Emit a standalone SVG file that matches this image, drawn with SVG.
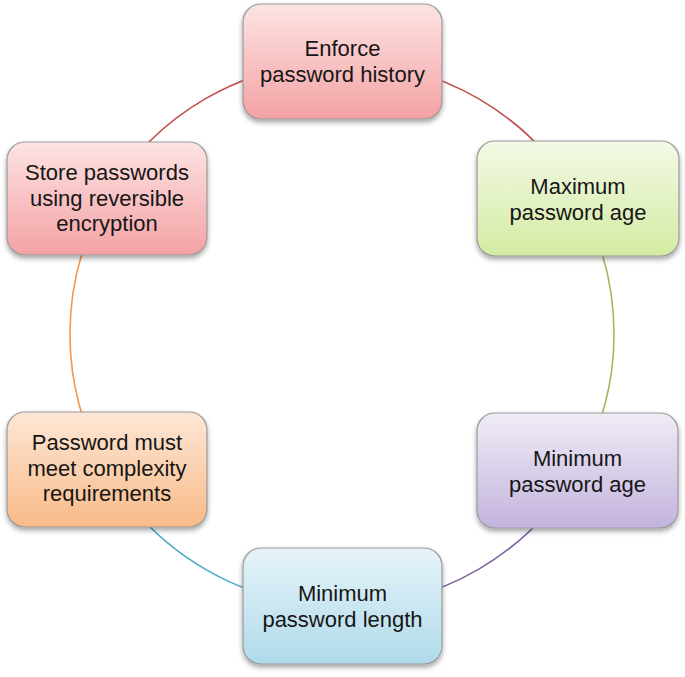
<svg xmlns="http://www.w3.org/2000/svg" width="685" height="677" viewBox="0 0 685 677">
<style>
.arc{fill:none;stroke-width:1.6}
.box{stroke:#9a9a9a;stroke-width:1.2;filter:url(#sh)}
text{font-family:"Liberation Sans",Arial,sans-serif;font-size:22px;fill:#161616;text-anchor:middle}
</style>
<defs>
<filter id="sh" x="-10%" y="-10%" width="120%" height="130%">
<feDropShadow dx="0" dy="3" stdDeviation="2.5" flood-color="#000" flood-opacity="0.35"/>
</filter>
<linearGradient id="gRed" x1="0" y1="0" x2="0" y2="1"><stop offset="0" stop-color="#fde3e3"/><stop offset="1" stop-color="#f4a2a4"/></linearGradient>
<linearGradient id="gGreen" x1="0" y1="0" x2="0" y2="1"><stop offset="0" stop-color="#f3f9e6"/><stop offset="1" stop-color="#d3eba2"/></linearGradient>
<linearGradient id="gPurple" x1="0" y1="0" x2="0" y2="1"><stop offset="0" stop-color="#f0ecf6"/><stop offset="1" stop-color="#c3b3dd"/></linearGradient>
<linearGradient id="gBlue" x1="0" y1="0" x2="0" y2="1"><stop offset="0" stop-color="#e6f4f9"/><stop offset="1" stop-color="#afdaea"/></linearGradient>
<linearGradient id="gOrange" x1="0" y1="0" x2="0" y2="1"><stop offset="0" stop-color="#fde7d6"/><stop offset="1" stop-color="#f9ba88"/></linearGradient>
</defs>
<g id="connectors">
<path class="arc" stroke="#c0504d" d="M342 62 A272 272 0 0 1 577.6 198"/>
<path class="arc" stroke="#9bbb59" d="M577.6 198 A272 272 0 0 1 577.6 470"/>
<path class="arc" stroke="#8064a2" d="M577.6 470 A272 272 0 0 1 342 606"/>
<path class="arc" stroke="#4bacc6" d="M342 606 A272 272 0 0 1 106.4 470"/>
<path class="arc" stroke="#f79646" d="M106.4 470 A272 272 0 0 1 106.4 198"/>
<path class="arc" stroke="#c0504d" d="M106.4 198 A272 272 0 0 1 342 62"/>
</g>
<g id="node-history">
<rect class="box" x="243" y="4" width="199" height="115" rx="18" fill="url(#gRed)"/>
<text x="342.5" y="56">Enforce</text>
<text x="342.5" y="82">password history</text>
</g>
<g id="node-max-age">
<rect class="box" x="477" y="141" width="202" height="115" rx="18" fill="url(#gGreen)"/>
<text x="578" y="194">Maximum</text>
<text x="578" y="220">password age</text>
</g>
<g id="node-min-age">
<rect class="box" x="477" y="413" width="201" height="115" rx="18" fill="url(#gPurple)"/>
<text x="577.5" y="466">Minimum</text>
<text x="577.5" y="492">password age</text>
</g>
<g id="node-min-length">
<rect class="box" x="243" y="548" width="199" height="116" rx="18" fill="url(#gBlue)"/>
<text x="342.5" y="601">Minimum</text>
<text x="342.5" y="627">password length</text>
</g>
<g id="node-complexity">
<rect class="box" x="7" y="412" width="200" height="115" rx="18" fill="url(#gOrange)"/>
<text x="107" y="450">Password must</text>
<text x="107" y="476">meet complexity</text>
<text x="107" y="501">requirements</text>
</g>
<g id="node-reversible">
<rect class="box" x="7" y="142" width="200" height="113" rx="18" fill="url(#gRed)"/>
<text x="107" y="180">Store passwords</text>
<text x="107" y="206">using reversible</text>
<text x="107" y="231">encryption</text>
</g>
</svg>
